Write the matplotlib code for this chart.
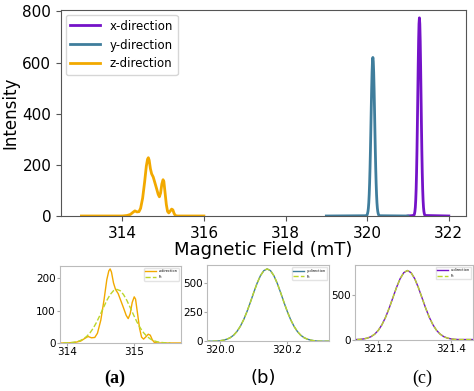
import numpy as np
import matplotlib.pyplot as plt

# x-direction spectrum (mT, intensity)
x_field = [321.0, 321.14, 321.15, 321.16, 321.17, 321.18, 321.19, 321.20, 321.21, 321.22,
           321.23, 321.24, 321.25, 321.26, 321.27, 321.28, 321.29, 321.30, 321.31, 321.32,
           321.33, 321.34, 321.35, 321.36, 321.37, 321.38, 321.39, 321.40, 321.41, 321.42, 322.0]
x_int = [0, 2, 4, 9, 18, 34, 62, 105, 168, 252, 355, 470, 585, 684, 751, 775,
         751, 684, 585, 470, 355, 252, 168, 105, 62, 34, 18, 9, 4, 2, 0]

# y-direction spectrum
y_field = [319.0, 319.98, 319.99, 320.00, 320.01, 320.02, 320.03, 320.04, 320.05, 320.06,
           320.07, 320.08, 320.09, 320.10, 320.11, 320.12, 320.13, 320.14, 320.15, 320.16,
           320.17, 320.18, 320.19, 320.20, 320.21, 320.22, 320.23, 320.24, 320.25, 320.26,
           320.27, 320.28, 320.29, 320.30, 321.0]
y_int = [0, 1, 2, 5, 10, 18, 31, 52, 84, 128, 185, 255, 334, 418, 497, 562, 605, 620,
         605, 562, 497, 418, 334, 255, 185, 128, 84, 52, 31, 18, 10, 5, 2, 1, 0]

# z-direction spectrum
z_field = [313.0, 314.0, 314.12, 314.20, 314.26, 314.31, 314.36, 314.41, 314.45, 314.50,
           314.55, 314.59, 314.62, 314.64, 314.66, 314.69, 314.72, 314.76, 314.80, 314.84,
           314.88, 314.91, 314.94, 314.97, 315.00, 315.02, 315.05, 315.08, 315.11, 315.14,
           315.17, 315.21, 315.24, 315.27, 315.30, 315.35, 316.0]
z_int = [0, 0, 2, 6, 14, 20, 16, 17, 30, 70, 135, 195, 222, 228, 218, 185, 165, 152,
         130, 108, 85, 75, 90, 125, 142, 135, 90, 45, 18, 12, 18, 27, 24, 10, 2, 0, 0]

# gaussian fit to z-direction
zfit_field = [313.94, 313.99, 314.04, 314.09, 314.14, 314.19, 314.24, 314.29, 314.34, 314.39,
              314.44, 314.49, 314.54, 314.59, 314.64, 314.69, 314.74, 314.79, 314.84, 314.89,
              314.94, 314.99, 315.04, 315.09, 315.14, 315.19, 315.24, 315.29, 315.34, 315.39,
              315.44, 315.49, 315.54]
zfit_int = [0.2, 0.5, 1.0, 2.1, 4.0, 7.2, 12.5, 20.4, 31.6, 46.5, 65, 86.5, 109, 131, 149, 161,
            165, 161, 149, 131, 109, 86.5, 65, 46.5, 31.6, 20.4, 12.5, 7.2, 4.0, 2.1, 1.0, 0.5, 0.2]

c_x = '#7412c8'
c_y = '#3f7d9c'
c_z = '#f2a900'
c_fit = '#bcd62a'

fig = plt.figure(figsize=(4.74, 3.91), dpi=100)

ax = fig.add_axes([0.1287, 0.4476, 0.8543, 0.5264])
ax.plot(x_field, x_int, color=c_x, lw=2, label='x-direction')
ax.plot(y_field, y_int, color=c_y, lw=2, label='y-direction')
ax.plot(z_field, z_int, color=c_z, lw=2, label='z-direction')
ax.set_xlim(312.5, 322.42)
ax.set_ylim(0, 805)
ax.set_xticks([314, 316, 318, 320, 322])
ax.set_yticks([0, 200, 400, 600, 800])
ax.tick_params(labelsize=11, color='#555555')
for s in ax.spines.values():
    s.set_color('#555555')
ax.set_xlabel('Magnetic Field (mT)', fontsize=13, labelpad=0)
ax.set_ylabel('Intensity', fontsize=12, labelpad=2)
ax.legend(loc='upper left', fontsize=8.5, handlelength=2.5, borderaxespad=0.4)

def small(rect, field, inten, color, fit_field, fit_int, name, xlim, ylim, xt, yt):
    a = fig.add_axes(rect)
    a.plot(field, inten, color=color, lw=1, label=name)
    a.plot(fit_field, fit_int, color=c_fit, lw=1, ls='--', label='fit')
    a.set_xlim(*xlim)
    a.set_ylim(*ylim)
    a.set_xticks(xt)
    a.set_yticks(yt)
    a.tick_params(labelsize=7.5, length=2, pad=1, color='#aaaaaa')
    for s in a.spines.values():
        s.set_color('#bbbbbb')
    a.legend(loc='upper right', fontsize=2.5, handlelength=3, frameon=True,
             edgecolor='#dddddd', borderaxespad=0.6)
    return a

small([0.1266, 0.1228, 0.2553, 0.1969], z_field, z_int, c_z, zfit_field, zfit_int,
      'z-direction', (313.89, 315.70), (0, 237), [314, 315], [0, 100, 200])
small([0.4361, 0.1271, 0.2586, 0.1944], y_field, y_int, c_y, y_field, y_int,
      'y-direction', (319.96, 320.325), (0, 651), [320.0, 320.2], [0, 250, 500])
small([0.749, 0.1312, 0.2495, 0.1918], x_field, x_int, c_x, x_field, x_int,
      'x-direction', (321.136, 321.461), (0, 840), [321.2, 321.4], [0, 500])
fig.axes[2].xaxis.set_major_formatter(plt.FormatStrFormatter('%.1f'))
fig.axes[3].xaxis.set_major_formatter(plt.FormatStrFormatter('%.1f'))

fig.text(115 / 474, 1 - 378 / 391, '(a)', ha='center', va='center', fontsize=13,
         family='Liberation Serif', weight='bold')
fig.text(263 / 474, 1 - 378 / 391, '(b)', ha='center', va='center', fontsize=13,
         family='DejaVu Sans')
fig.text(422 / 474, 1 - 378 / 391, '(c)', ha='center', va='center', fontsize=13,
         family='Liberation Serif')

fig.savefig('out.png', dpi=100)
